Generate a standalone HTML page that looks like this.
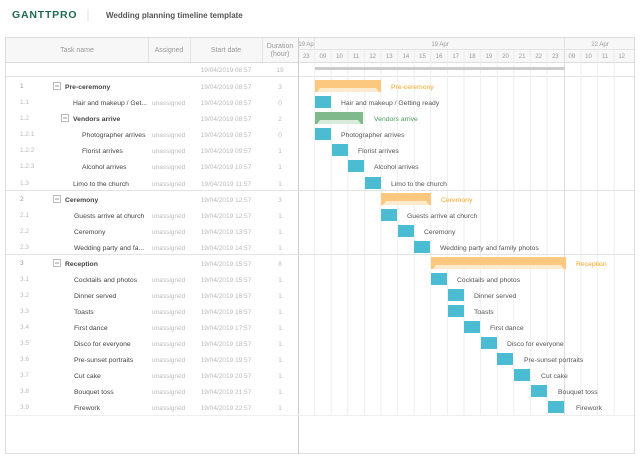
<!DOCTYPE html>
<html><head><meta charset="utf-8"><style>
body{margin:0;background:#fff;width:640px;height:460px;overflow:hidden;font-family:"Liberation Sans",sans-serif;}
</style></head><body>
<svg width="640" height="460" xmlns="http://www.w3.org/2000/svg" font-family="Liberation Sans, sans-serif">
<text x="12" y="18" font-size="10.5" font-weight="bold" fill="#1f6b4f" letter-spacing="0.8">GANTTPRO</text>
<line x1="88" y1="9" x2="88" y2="22" stroke="#e3e3e3"/>
<text x="106" y="18" font-size="8" font-weight="bold" fill="#555">Wedding planning timeline template</text>
<rect x="5.5" y="37.5" width="629" height="416" fill="#fff" stroke="#ddd"/>
<!-- header -->
<rect x="6" y="38" width="628" height="24" fill="#f7f7f7"/>
<line x1="6" y1="62.5" x2="634" y2="62.5" stroke="#ddd"/>
<line x1="6" y1="76.5" x2="634" y2="76.5" stroke="#e3e3e3"/>
<g stroke="#e3e3e3">
<line x1="148.5" y1="38" x2="148.5" y2="62"/><line x1="190.5" y1="38" x2="190.5" y2="62"/>
<line x1="262.5" y1="38" x2="262.5" y2="62"/><line x1="298.5" y1="38" x2="298.5" y2="454" stroke="#ccc"/>
<line x1="298" y1="49.5" x2="634" y2="49.5"/>
<line x1="314.5" y1="38" x2="314.5" y2="49"/><line x1="564.5" y1="38" x2="564.5" y2="49"/>
</g>
<g font-size="7" fill="#999" text-anchor="middle">
<text x="77" y="52">Task name</text><text x="169" y="52">Assigned</text><text x="226" y="52">Start date</text>
<text x="280" y="48">Duration</text><text x="280" y="56">(hour)</text>
<text x="306" y="46" font-size="6">19 Ap</text><text x="440" y="46" font-size="6">19 Apr</text><text x="600" y="46" font-size="6">22 Apr</text>
</g>
<g id="cols" font-size="6" fill="#999" text-anchor="middle">
<text x="306.3" y="58">23</text><text x="322.9" y="58">09</text><text x="339.5" y="58">10</text><text x="356.1" y="58">11</text><text x="372.7" y="58">12</text><text x="389.3" y="58">13</text><text x="405.9" y="58">14</text><text x="422.5" y="58">15</text><text x="439.1" y="58">16</text><text x="455.7" y="58">17</text><text x="472.3" y="58">18</text><text x="488.9" y="58">19</text><text x="505.5" y="58">20</text><text x="522.1" y="58">21</text><text x="538.7" y="58">22</text><text x="555.3" y="58">23</text><text x="571.9" y="58">09</text><text x="588.5" y="58">10</text><text x="605.1" y="58">11</text><text x="621.7" y="58">12</text>
</g>
<g stroke="#eee">
<line x1="314.6" y1="50" x2="314.6" y2="415"/><line x1="331.2" y1="50" x2="331.2" y2="415"/><line x1="347.8" y1="50" x2="347.8" y2="415"/><line x1="364.4" y1="50" x2="364.4" y2="415"/><line x1="381" y1="50" x2="381" y2="415"/><line x1="397.6" y1="50" x2="397.6" y2="415"/><line x1="414.2" y1="50" x2="414.2" y2="415"/><line x1="430.8" y1="50" x2="430.8" y2="415"/><line x1="447.4" y1="50" x2="447.4" y2="415"/><line x1="464" y1="50" x2="464" y2="415"/><line x1="480.6" y1="50" x2="480.6" y2="415"/><line x1="497.2" y1="50" x2="497.2" y2="415"/><line x1="513.8" y1="50" x2="513.8" y2="415"/><line x1="530.4" y1="50" x2="530.4" y2="415"/><line x1="547" y1="50" x2="547" y2="415"/><line x1="564.5" y1="50" x2="564.5" y2="415" stroke="#ddd"/><line x1="581" y1="50" x2="581" y2="415"/><line x1="597.6" y1="50" x2="597.6" y2="415"/><line x1="614.2" y1="50" x2="614.2" y2="415"/>
</g>
<line x1="6" y1="190.5" x2="634" y2="190.5" stroke="#e3e3e3"/>
<line x1="6" y1="254.5" x2="634" y2="254.5" stroke="#e3e3e3"/>
<line x1="6" y1="415.5" x2="634" y2="415.5" stroke="#eee"/>
<!-- summary row -->
<text x="226" y="72" font-size="6.5" fill="#bbb" text-anchor="middle">19/04/2019 08:57</text>
<text x="280" y="72" font-size="6.5" fill="#bbb" text-anchor="middle">19</text>
<rect x="315" y="67" width="250" height="3" fill="#ccc"/>
<!-- rows -->
<g font-size="6.8" fill="#444">
<g fill="#999" font-size="6.5">
<text x="20" y="88">1</text><text x="20" y="104" fill="#bbb">1.1</text><text x="20" y="120" fill="#bbb">1.2</text><text x="20" y="136" fill="#bbb">1.2.1</text><text x="20" y="152" fill="#bbb">1.2.2</text><text x="20" y="168" fill="#bbb">1.2.3</text><text x="20" y="185" fill="#bbb">1.3</text>
<text x="20" y="201">2</text><text x="20" y="217" fill="#bbb">2.1</text><text x="20" y="233" fill="#bbb">2.2</text><text x="20" y="249" fill="#bbb">2.3</text>
<text x="20" y="265">3</text><text x="20" y="281" fill="#bbb">3.1</text><text x="20" y="297" fill="#bbb">3.2</text><text x="20" y="313" fill="#bbb">3.3</text><text x="20" y="329" fill="#bbb">3.4</text><text x="20" y="345" fill="#bbb">3.5</text><text x="20" y="361" fill="#bbb">3.6</text><text x="20" y="377" fill="#bbb">3.7</text><text x="20" y="393" fill="#bbb">3.8</text><text x="20" y="409" fill="#bbb">3.9</text>
</g>
<g fill="none" stroke="#bbb"><rect x="53.5" y="82.5" width="7" height="7"/><rect x="61.5" y="114.5" width="7" height="7"/><rect x="53.5" y="195.5" width="7" height="7"/><rect x="53.5" y="259.5" width="7" height="7"/></g>
<g stroke="#999"><line x1="55" y1="86" x2="59" y2="86"/><line x1="63" y1="118" x2="67" y2="118"/><line x1="55" y1="199" x2="59" y2="199"/><line x1="55" y1="263" x2="59" y2="263"/></g>
<g font-weight="bold"><text x="65" y="89">Pre-ceremony</text><text x="73" y="121">Vendors arrive</text><text x="65" y="202">Ceremony</text><text x="65" y="266">Reception</text></g>
<text x="73" y="105">Hair and makeup / Get...</text><text x="82" y="137">Photographer arrives</text><text x="82" y="153">Florist arrives</text><text x="82" y="169">Alcohol arrives</text><text x="73" y="186">Limo to the church</text>
<text x="74" y="218">Guests arrive at church</text><text x="74" y="234">Ceremony</text><text x="74" y="250">Wedding party and fa...</text>
<text x="74" y="282">Cocktails and photos</text><text x="74" y="298">Dinner served</text><text x="74" y="314">Toasts</text><text x="74" y="330">First dance</text><text x="74" y="346">Disco for everyone</text><text x="74" y="362">Pre-sunset portraits</text><text x="74" y="378">Cut cake</text><text x="74" y="394">Bouquet toss</text><text x="74" y="410">Firework</text>
<g fill="#bbb" font-size="6.5">
<text x="152" y="105">unassigned</text><text x="152" y="137">unassigned</text><text x="152" y="153">unassigned</text><text x="152" y="169">unassigned</text><text x="152" y="186">unassigned</text><text x="152" y="218">unassigned</text><text x="152" y="234">unassigned</text><text x="152" y="250">unassigned</text><text x="152" y="282">unassigned</text><text x="152" y="298">unassigned</text><text x="152" y="314">unassigned</text><text x="152" y="330">unassigned</text><text x="152" y="346">unassigned</text><text x="152" y="362">unassigned</text><text x="152" y="378">unassigned</text><text x="152" y="394">unassigned</text><text x="152" y="410">unassigned</text>
</g>
<g fill="#bbb" font-size="6.5" text-anchor="middle">
<text x="226" y="89">19/04/2019 08:57</text><text x="226" y="105">19/04/2019 08:57</text><text x="226" y="121">19/04/2019 08:57</text><text x="226" y="137">19/04/2019 08:57</text><text x="226" y="153">19/04/2019 09:57</text><text x="226" y="169">19/04/2019 10:57</text><text x="226" y="186">19/04/2019 11:57</text><text x="226" y="202">19/04/2019 12:57</text><text x="226" y="218">19/04/2019 12:57</text><text x="226" y="234">19/04/2019 13:57</text><text x="226" y="250">19/04/2019 14:57</text><text x="226" y="266">19/04/2019 15:57</text><text x="226" y="282">19/04/2019 15:57</text><text x="226" y="298">19/04/2019 16:57</text><text x="226" y="314">19/04/2019 16:57</text><text x="226" y="330">19/04/2019 17:57</text><text x="226" y="346">19/04/2019 18:57</text><text x="226" y="362">19/04/2019 19:57</text><text x="226" y="378">19/04/2019 20:57</text><text x="226" y="394">19/04/2019 21:57</text><text x="226" y="410">19/04/2019 22:57</text>
<text x="280" y="89">3</text><text x="280" y="105">0</text><text x="280" y="121">2</text><text x="280" y="137">0</text><text x="280" y="153">1</text><text x="280" y="169">1</text><text x="280" y="186">1</text><text x="280" y="202">3</text><text x="280" y="218">1</text><text x="280" y="234">1</text><text x="280" y="250">1</text><text x="280" y="266">8</text><text x="280" y="282">1</text><text x="280" y="298">1</text><text x="280" y="314">1</text><text x="280" y="330">1</text><text x="280" y="346">1</text><text x="280" y="362">1</text><text x="280" y="378">1</text><text x="280" y="394">1</text><text x="280" y="410">1</text>
</g>
</g>
<!-- bars -->
<g>
<rect x="315" y="80" width="66" height="12" fill="#fcc77f"/><polygon points="317,92 320,88 376,88 379,92" fill="#fdebd0"/>
<rect x="315" y="112" width="48" height="12" fill="#7fb98c"/><polygon points="317,124 320,120 358,120 361,124" fill="#d7ecdb"/>
<rect x="381" y="193" width="50" height="12" fill="#fcc77f"/><polygon points="383,205 386,201 426,201 429,205" fill="#fdebd0"/>
<rect x="431" y="257" width="135" height="12" fill="#fcc77f"/><polygon points="433,269 436,265 561,265 564,269" fill="#fdebd0"/>
</g>
<g fill="#4cbcd2">
<rect x="315" y="96" width="16" height="12"/><rect x="315" y="128" width="16" height="12"/><rect x="332" y="144" width="16" height="12"/><rect x="348" y="160" width="16" height="12"/><rect x="365" y="177" width="16" height="12"/>
<rect x="381" y="209" width="16" height="12"/><rect x="398" y="225" width="16" height="12"/><rect x="414" y="241" width="16" height="12"/>
<rect x="431" y="273" width="16" height="12"/><rect x="448" y="289" width="16" height="12"/><rect x="448" y="305" width="16" height="12"/><rect x="464" y="321" width="16" height="12"/><rect x="481" y="337" width="16" height="12"/><rect x="497" y="353" width="16" height="12"/><rect x="514" y="369" width="16" height="12"/><rect x="531" y="385" width="16" height="12"/><rect x="548" y="401" width="16" height="12"/>
</g>
<g font-size="6.8" fill="#555">
<text x="391" y="89" fill="#f5a623">Pre-ceremony</text>
<text x="341" y="105">Hair and makeup / Getting ready</text>
<text x="374" y="121" fill="#4d9a5e">Vendors arrive</text>
<text x="341" y="137">Photographer arrives</text><text x="358" y="153">Florist arrives</text><text x="374" y="169">Alcohol arrives</text><text x="391" y="186">Limo to the church</text>
<text x="441" y="202" fill="#f5a623">Ceremony</text>
<text x="407" y="218">Guests arrive at church</text><text x="424" y="234">Ceremony</text><text x="440" y="250">Wedding party and family photos</text>
<text x="576" y="266" fill="#f5a623">Reception</text>
<text x="457" y="282">Cocktails and photos</text><text x="474" y="298">Dinner served</text><text x="474" y="314">Toasts</text><text x="490" y="330">First dance</text><text x="507" y="346">Disco for everyone</text><text x="524" y="362">Pre-sunset portraits</text><text x="541" y="378">Cut cake</text><text x="558" y="394">Bouquet toss</text><text x="576" y="410">Firework</text>
</g>
</svg>
</body></html>
